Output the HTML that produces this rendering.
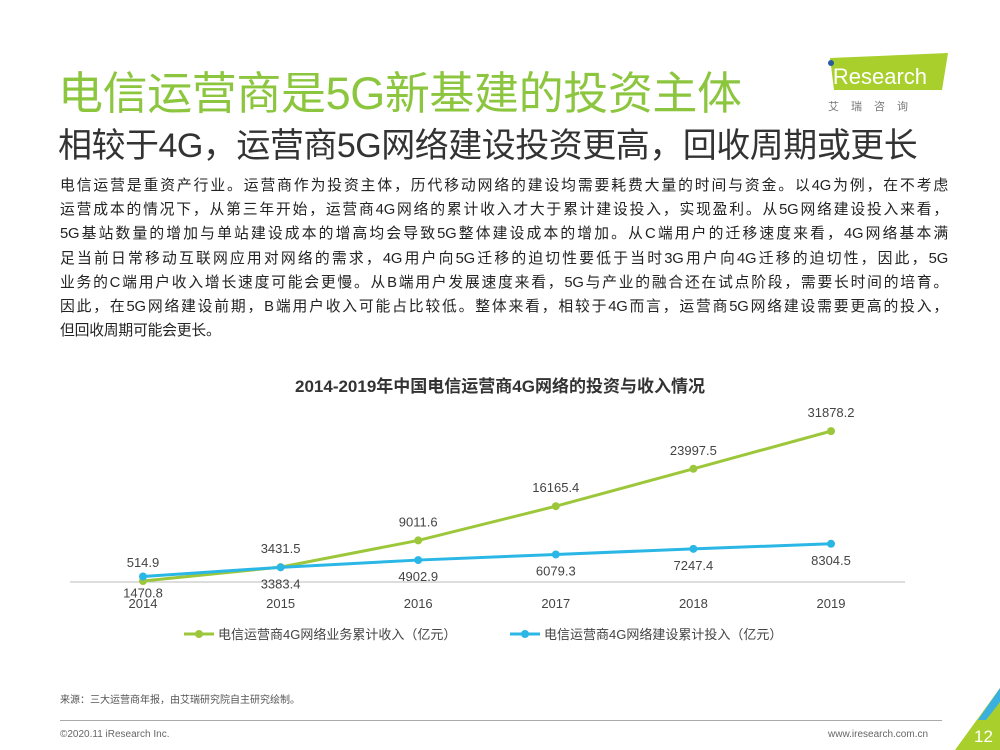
<!DOCTYPE html>
<html><head><meta charset="utf-8"><style>
body{margin:0;width:1000px;height:750px;background:#fff;overflow:hidden;position:relative;font-family:"Liberation Sans","Noto Sans CJK SC",sans-serif}
.abs{position:absolute;white-space:nowrap}
.bl{white-space:nowrap;text-align:justify;text-align-last:justify;height:24.2px}
</style></head><body>
<div class="abs" style="left:58px;top:57px;font-size:45px;color:#8cc63f;letter-spacing:-0.4px">电信运营商是5G新基建的投资主体</div>
<div class="abs" style="left:58px;top:118px;font-size:34px;color:#333;letter-spacing:-0.5px">相较于4G，运营商5G网络建设投资更高，回收周期或更长</div>
<svg class="abs" style="left:820px;top:50px" width="140" height="65">
<polygon points="10,8 128,3 122,40 14,40" fill="#a8cf2c"/>
<circle cx="11" cy="13" r="3" fill="#2a5aa0"/>
<text x="8" y="34" font-size="22" fill="#fff" font-family="Liberation Sans,sans-serif">iResearch</text>
<text x="8" y="60" font-size="11" fill="#777" letter-spacing="12" font-family="Liberation Sans,Noto Sans CJK SC,sans-serif">艾瑞咨询</text>
</svg>
<div class="abs" style="left:60px;top:174px;width:888px;white-space:normal;font-size:14.8px;line-height:24.2px;color:#222;letter-spacing:-0.2px">
<div class="bl">电信运营是重资产行业。运营商作为投资主体，历代移动网络的建设均需要耗费大量的时间与资金。以4G为例，在不考虑</div>
<div class="bl">运营成本的情况下，从第三年开始，运营商4G网络的累计收入才大于累计建设投入，实现盈利。从5G网络建设投入来看，</div>
<div class="bl">5G基站数量的增加与单站建设成本的增高均会导致5G整体建设成本的增加。从C端用户的迁移速度来看，4G网络基本满</div>
<div class="bl">足当前日常移动互联网应用对网络的需求，4G用户向5G迁移的迫切性要低于当时3G用户向4G迁移的迫切性，因此，5G</div>
<div class="bl">业务的C端用户收入增长速度可能会更慢。从B端用户发展速度来看，5G与产业的融合还在试点阶段，需要长时间的培育。</div>
<div class="bl">因此，在5G网络建设前期，B端用户收入可能占比较低。整体来看，相较于4G而言，运营商5G网络建设需要更高的投入，</div>
<div>但回收周期可能会更长。</div>
</div>
<div class="abs" style="left:0;width:1000px;text-align:center;top:372px;font-size:17px;font-weight:bold;color:#333">2014-2019年中国电信运营商4G网络的投资与收入情况</div>
<svg class="abs" id="chart" style="left:0;top:0" width="1000" height="750"></svg>
<div class="abs" style="left:60px;top:691px;font-size:10px;color:#555">来源：三大运营商年报，由艾瑞研究院自主研究绘制。</div>
<div class="abs" style="left:60px;top:720px;width:882px;height:1px;background:#aaa"></div>
<div class="abs" style="left:60px;top:729px;font-size:10px;color:#666">©2020.11 iResearch Inc.</div>
<div class="abs" style="left:828px;top:729px;font-size:10px;color:#666">www.iresearch.com.cn</div>
<svg class="abs" style="left:940px;top:680px" width="60" height="70">
<polygon points="15,70 60,8 60,70" fill="#a8cf2c"/>
<polygon points="38,40 60,8 60,22 46,40" fill="#3ab0e0"/>
<text x="34" y="62" font-size="17" fill="#fff" font-family="Liberation Sans,sans-serif">12</text>
</svg>
<script>
const years=["2014","2015","2016","2017","2018","2019"];
const revenue=[514.9,3431.5,9011.6,16165.4,23997.5,31878.2];
const invest=[1470.8,3383.4,4902.9,6079.3,7247.4,8304.5];
const svg=document.getElementById('chart');const NS="http://www.w3.org/2000/svg";
const x=i=>143+i*137.6;const y=v=>583.5-v*0.00478;
function mk(t,a){const e=document.createElementNS(NS,t);for(const k in a)e.setAttribute(k,a[k]);svg.appendChild(e);return e;}
const ax=mk('line',{x1:70,x2:905,y1:582,y2:582,stroke:'#bbb','stroke-width':1});


function series(vals,color,name,above){
 const p=mk('polyline',{points:vals.map((v,i)=>x(i)+','+y(v)).join(' '),fill:'none',stroke:color,'stroke-width':3});
 
 
 vals.forEach((v,i)=>{
  const c=mk('circle',{cx:x(i),cy:y(v),r:4,fill:color});
  
  
  const t=mk('text',{x:x(i),y:above?y(v)-14:y(v)+21,'text-anchor':'middle','font-size':13,fill:'#444'});
  t.textContent=v.toFixed(1);
  
  
 });
}
series(revenue,'#9dc73a','revenue',true);
series(invest,'#2bb7e6','investment',false);
years.forEach((yr,i)=>{const t=mk('text',{x:x(i),y:608,'text-anchor':'middle','font-size':13,fill:'#444'});t.textContent=yr;

});
function legend(lx,color,label){
 const l=mk('line',{x1:lx,x2:lx+30,y1:634,y2:634,stroke:color,'stroke-width':3});
 
 
 const c=mk('circle',{cx:lx+15,cy:634,r:4,fill:color});
 
 
 const t=mk('text',{x:lx+34,y:639,'font-size':13,fill:'#444'});t.textContent=label;
 
 
}
legend(184,'#9dc73a','电信运营商4G网络业务累计收入（亿元）');
legend(510,'#2bb7e6','电信运营商4G网络建设累计投入（亿元）');
</script>
</body></html>
